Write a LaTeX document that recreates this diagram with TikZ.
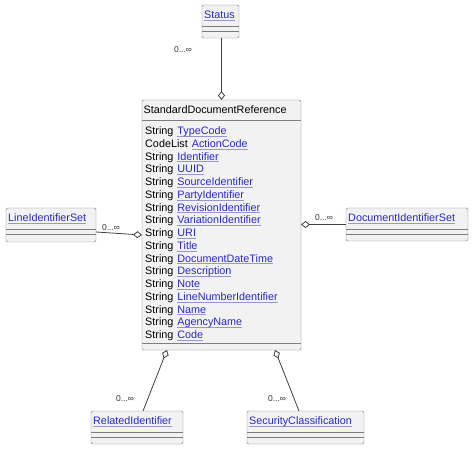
\documentclass[tikz,border=0pt]{standalone}
\usepackage{fontspec}
\setmainfont{Liberation Sans}
\usetikzlibrary{calc,arrows.meta}
\definecolor{linkblue}{RGB}{40,40,200}
\definecolor{ulblue}{RGB}{150,150,210}
\definecolor{boxfill}{RGB}{242,242,242}
\definecolor{boxline}{RGB}{125,125,125}
\newcommand{\lnk}[1]{\begingroup\setbox0\hbox{#1}\rlap{\textcolor{ulblue}{\rule[-2pt]{\wd0}{0.7pt}}}\textcolor{linkblue}{#1}\endgroup}

\begin{document}
\begin{tikzpicture}[x=1pt,y=-1pt,
  cls/.style={draw=boxline, fill=boxfill, rounded corners=1.5pt, inner sep=0pt, outer sep=0pt, anchor=north west},
  sep/.style={draw=boxline},
  ttl/.style={anchor=west, inner sep=0pt, font=\fontsize{10.8}{12}\selectfont},
  attr/.style={anchor=north west, inner sep=0pt, align=left, font=\fontsize{10.8}{12.75}\selectfont},
  mult/.style={inner sep=0pt, text=black!80, font=\fontsize{8.5}{10}\selectfont},
  assoc/.style={draw=black!75, line width=0.8pt},
  agg/.style={{Diamond[open,length=9pt,width=7pt]}-}]
\useasboundingbox (0,0) rectangle (474,449);
% classes
\node[cls, minimum width=37pt, minimum height=33pt] (status) at (202,5) {};
\draw[sep] ([yshift=-21pt]status.north west) -- ([yshift=-21pt]status.north east);
\draw[sep] ([yshift=-26pt]status.north west) -- ([yshift=-26pt]status.north east);
\node[ttl] (statusT) at ([xshift=2pt,yshift=-10.5pt]status.north west) {\lnk{Status}};

\node[cls, minimum width=159pt, minimum height=250pt] (sdr) at (142,100) {};
\draw[sep] ([yshift=-20pt]sdr.north west) -- ([yshift=-20pt]sdr.north east);
\draw[sep] ([yshift=7pt]sdr.south west) -- ([yshift=7pt]sdr.south east);
\node[ttl] (sdrT) at ([xshift=1.5pt,yshift=-10pt]sdr.north west) {StandardDocumentReference};
\node[attr] (sdrA) at ([xshift=3pt,yshift=-26.5pt]sdr.north west) {%
String\hspace{4pt}\lnk{TypeCode}\\
CodeList\hspace{4pt}\lnk{ActionCode}\\
String\hspace{4pt}\lnk{Identifier}\\
String\hspace{4pt}\lnk{UUID}\\
String\hspace{4pt}\lnk{SourceIdentifier}\\
String\hspace{4pt}\lnk{PartyIdentifier}\\
String\hspace{4pt}\lnk{RevisionIdentifier}\\
String\hspace{4pt}\lnk{VariationIdentifier}\\
String\hspace{4pt}\lnk{URI}\\
String\hspace{4pt}\lnk{Title}\\
String\hspace{4pt}\lnk{DocumentDateTime}\\
String\hspace{4pt}\lnk{Description}\\
String\hspace{4pt}\lnk{Note}\\
String\hspace{4pt}\lnk{LineNumberIdentifier}\\
String\hspace{4pt}\lnk{Name}\\
String\hspace{4pt}\lnk{AgencyName}\\
String\hspace{4pt}\lnk{Code}};

\node[cls, minimum width=90pt, minimum height=34pt] (lis) at (6,208) {};
\draw[sep] ([yshift=-21pt]lis.north west) -- ([yshift=-21pt]lis.north east);
\draw[sep] ([yshift=-26pt]lis.north west) -- ([yshift=-26pt]lis.north east);
\node[ttl] (lisT) at ([xshift=2pt,yshift=-10.5pt]lis.north west) {\lnk{LineIdentifierSet}};

\node[cls, minimum width=122pt, minimum height=33pt] (dis) at (346,208) {};
\draw[sep] ([yshift=-21pt]dis.north west) -- ([yshift=-21pt]dis.north east);
\draw[sep] ([yshift=-26pt]dis.north west) -- ([yshift=-26pt]dis.north east);
\node[ttl] (disT) at ([xshift=2pt,yshift=-10.5pt]dis.north west) {\lnk{DocumentIdentifierSet}};

\node[cls, minimum width=92pt, minimum height=33pt] (rel) at (91,411) {};
\draw[sep] ([yshift=-21pt]rel.north west) -- ([yshift=-21pt]rel.north east);
\draw[sep] ([yshift=-26pt]rel.north west) -- ([yshift=-26pt]rel.north east);
\node[ttl] (relT) at ([xshift=2pt,yshift=-10.5pt]rel.north west) {\lnk{RelatedIdentifier}};

\node[cls, minimum width=117pt, minimum height=33pt] (sec) at (247,411) {};
\draw[sep] ([yshift=-21pt]sec.north west) -- ([yshift=-21pt]sec.north east);
\draw[sep] ([yshift=-26pt]sec.north west) -- ([yshift=-26pt]sec.north east);
\node[ttl] (secT) at ([xshift=2pt,yshift=-10.5pt]sec.north west) {\lnk{SecurityClassification}};

% aggregations
\coordinate (lisEnd) at ([yshift=-24pt]lis.north east);
\coordinate (sdrW) at ([yshift=-135pt]sdr.north west);
\coordinate (relAgg) at ([xshift=25pt]sdr.south west);
\coordinate (relEnd) at ([xshift=52pt]rel.north west);
\coordinate (secAgg) at ([xshift=133pt]sdr.south west);
\coordinate (secEnd) at ([xshift=52pt]sec.north west);
\draw[assoc,agg] (sdr.north) -- (sdr.north |- status.south);
\draw[assoc,agg] (sdrW) -- (lisEnd);
\draw[assoc,agg] (sdr.east |- dis.west) -- (dis.west);
\draw[assoc,agg] (relAgg) -- (relEnd);
\draw[assoc,agg] (secAgg) -- (secEnd);

% multiplicities
\node[mult] (mStatus) at (183,50) {0...∞};
\node[mult] (mLis) at (111,228) {0...∞};
\node[mult] (mDis) at (324,218) {0...∞};
\node[mult] (mRel) at (125,399) {0...∞};
\node[mult] (mSec) at (277,399) {0...∞};
\end{tikzpicture}
\end{document}
